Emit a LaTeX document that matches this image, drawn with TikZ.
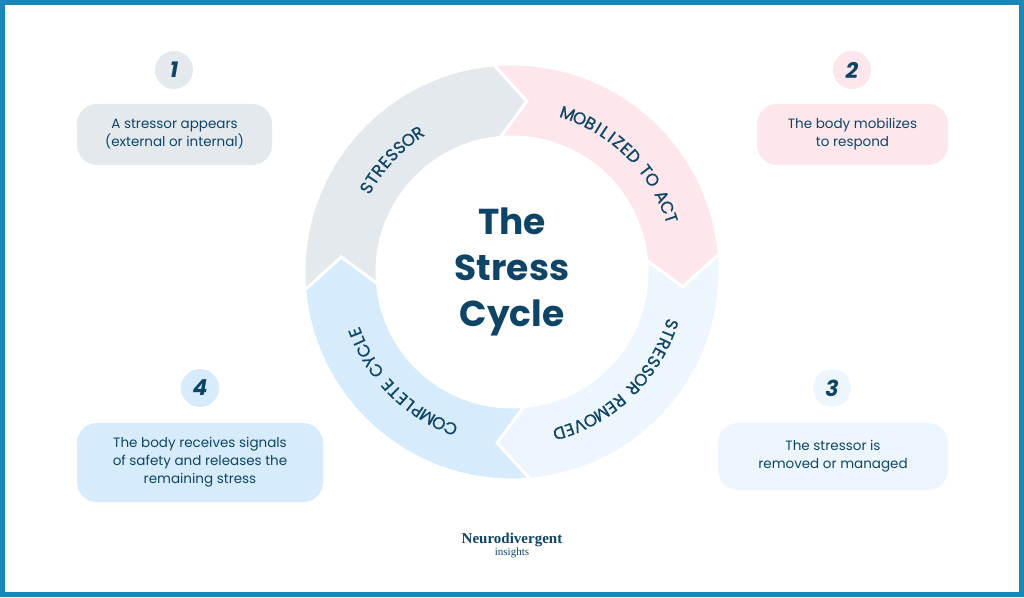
\documentclass[tikz,border=0pt]{standalone}
\usepackage{fontspec}
\setmainfont{Poppins}
\newfontfamily\arcf{Poppins}[FakeBold=0.8]
\newfontfamily\logof{Liberation Serif}
\usetikzlibrary{decorations.text}
\definecolor{ink}{HTML}{0E4566}
\definecolor{cgray}{HTML}{E4E9EE}
\definecolor{cpink}{HTML}{FDE6EC}
\definecolor{clight}{HTML}{EDF6FE}
\definecolor{cblue}{HTML}{D6EBFB}
\definecolor{frame}{HTML}{1B86B8}
\newcommand\ringseg[2]{%
\fill[#2,draw=white,line width=3pt,line join=miter] (#1:208pt) arc[start angle=#1,end angle=#1-90,radius=208pt] -- (#1-100:171.5pt) -- (#1-90:135pt) arc[start angle=#1-90,end angle=#1,radius=135pt] -- (#1-10:171.5pt) -- cycle;}
\newcommand\arclabel[3]{%
\path[decorate,decoration={text effects along path,text={#3},text align=center,
  text effects/.cd,text along path,
  characters={text=ink,font=\arcf\fontsize{17}{17}\selectfont,anchor=base},
  character widths={inner xsep=2.2pt}}] (#1:162pt) arc[start angle=#1,end angle=#2,radius=162pt];}
\tikzset{
 pill/.style={rounded corners=20pt,minimum height=#1,align=center,text=ink,font=\fontsize{13.5}{18}\selectfont,inner xsep=0pt},
 num/.style={circle,minimum size=38pt,inner sep=0pt,text=ink,font=\bfseries\itshape\fontsize{22}{22}\selectfont},
}
\begin{document}
\begin{tikzpicture}[x=1pt,y=1pt]
\useasboundingbox (0,0) rectangle (1024,597);
\fill[white] (0,0) rectangle (1024,597);
\draw[frame,line width=5pt] (2.5,2.5) rectangle (1021.5,594.5);
\begin{scope}[shift={(512,325)}]
\ringseg{185}{cgray}
\ringseg{95}{cpink}
\ringseg{5}{clight}
\ringseg{275}{cblue}
\arclabel{182}{92}{STRESSOR}
\arclabel{90}{0}{MOBILIZED TO ACT}
\arclabel{0}{-92}{STRESSOR REMOVED}
\arclabel{270}{180}{COMPLETE CYCLE}
\node[text=ink,font=\bfseries\fontsize{36}{46}\selectfont,align=center] (title) at (0,0) {The\\Stress\\Cycle};
\end{scope}
\node[pill=61pt,fill=cgray,minimum width=195pt] (b1) at (174.5,462.5) {A stressor appears\\(external or internal)};
\node[pill=61pt,fill=cpink,minimum width=191pt] (b2) at (852.5,462.5) {The body mobilizes\\to respond};
\node[pill=67pt,fill=clight,minimum width=230pt] (b3) at (833,140.5) {The stressor is\\removed or managed};
\node[pill=79pt,fill=cblue,minimum width=246pt] (b4) at (200,134.5) {The body receives signals\\of safety and releases the\\remaining stress};
\node[num,fill=cgray] (n1) at (174,527) {1};
\node[num,fill=cpink] (n2) at (852,527) {2};
\node[num,fill=clight] (n3) at (832,209) {3};
\node[num,fill=cblue] (n4) at (200,209) {4};
\node[text=ink,font=\logof\bfseries\fontsize{15}{15}\selectfont] (logo) at (512,57) {Neurodivergent};
\node[text=ink,font=\logof\fontsize{11}{11}\selectfont] (logo2) at (512,44) {insights};
\end{tikzpicture}
\end{document}
